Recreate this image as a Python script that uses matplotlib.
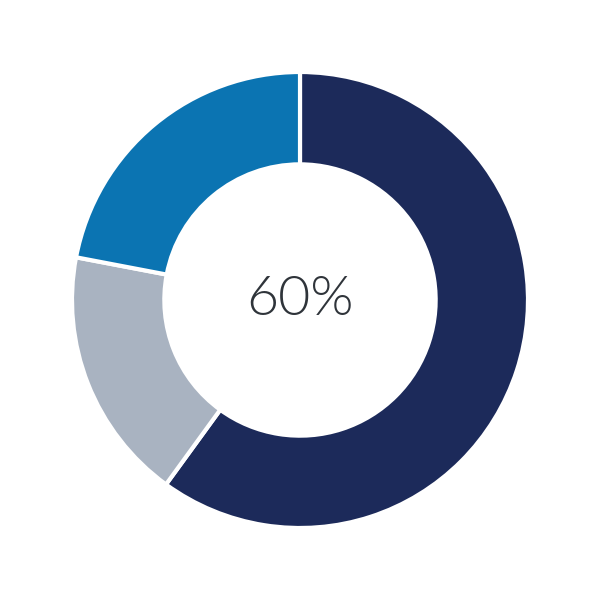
import matplotlib.pyplot as plt

labels = ['Navy', 'Gray', 'Blue']
values = [60, 18, 22]
colors = ['#1c2a5a', '#a9b3c1', '#0b74b2']
center_label = '60%'

fig = plt.figure(figsize=(6, 6), dpi=100)
ax = fig.add_axes([0, 0, 1, 1])
ax.pie(values, colors=colors, startangle=90, counterclock=False, radius=1.0,
       wedgeprops=dict(width=0.405, edgecolor='white', linewidth=3))
ax.text(0, 0, center_label, ha='center', va='center', fontsize=40,
        family=['Lato', 'DejaVu Sans'], fontweight=300, color='#2f343a')
lim = 300 / 228
ax.set_xlim(-lim, lim)
ax.set_ylim(-lim, lim)
ax.set_aspect('equal')
ax.axis('off')
fig.savefig('out.png', dpi=100, facecolor='white')
